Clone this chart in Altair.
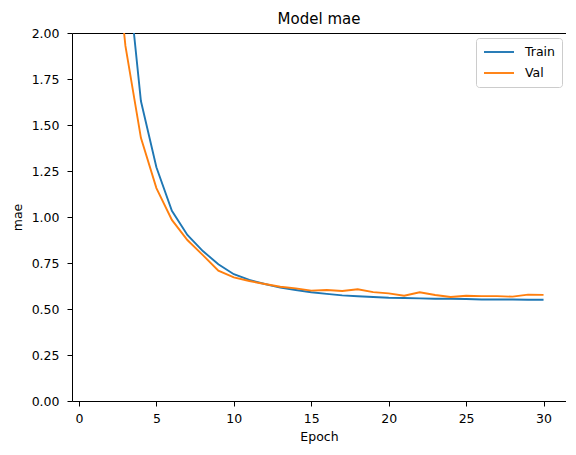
import altair as alt
import pandas as pd

# -----------------------------
# TRAINING HISTORY (MAE PER EPOCH)
# -----------------------------
epochs = list(range(1, 31))
train_mae = [5.60, 3.40, 2.45, 1.63, 1.270, 1.034, 0.902, 0.815, 0.743, 0.689,
             0.658, 0.636, 0.616, 0.603, 0.591, 0.582, 0.574, 0.569, 0.565, 0.561,
             0.560, 0.558, 0.556, 0.556, 0.554, 0.552, 0.552, 0.552, 0.550, 0.550]
val_mae = [4.10, 2.75, 1.93, 1.43, 1.157, 0.984, 0.875, 0.793, 0.708, 0.672,
           0.652, 0.636, 0.621, 0.612, 0.600, 0.603, 0.598, 0.607, 0.592, 0.585,
           0.572, 0.591, 0.576, 0.565, 0.572, 0.570, 0.570, 0.567, 0.578, 0.577]

series = ["Train", "Val"]
colors = ["#1f77b4", "#ff7f0e"]
x_ticks = [0, 5, 10, 15, 20, 25, 30]
y_ticks = [0.0, 0.25, 0.5, 0.75, 1.0, 1.25, 1.5, 1.75, 2.0]

df = pd.DataFrame({"Epoch": epochs, "Train": train_mae, "Val": val_mae})
df = df.melt(id_vars="Epoch", var_name="Series", value_name="mae")

FONT = "DejaVu Sans"

chart = (
    alt.Chart(df)
    .mark_line(clip=True, strokeWidth=1.9)
    .encode(
        x=alt.X(
            "Epoch:Q",
            scale=alt.Scale(domain=[-0.45, 31.45], nice=False, zero=False),
            axis=alt.Axis(values=x_ticks, format="d", title="Epoch",
                          titleX=247, titleY=39, titleBaseline="alphabetic",
                          labelBaseline="top", labelPadding=6),
        ),
        y=alt.Y(
            "mae:Q",
            scale=alt.Scale(domain=[0, 2], nice=False),
            axis=alt.Axis(values=y_ticks, format=".2f", title="mae",
                          titleX=-51, titleY=184, titleAngle=270,
                          titleAlign="center", titleBaseline="alphabetic",
                          labelPadding=8),
        ),
        color=alt.Color(
            "Series:N",
            scale=alt.Scale(domain=series, range=colors),
            legend=alt.Legend(
                title=None, orient="none", legendX=404, legendY=5,
                symbolType="stroke", symbolSize=900, symbolStrokeWidth=1.9,
                clipHeight=14, rowPadding=7, padding=7, labelOffset=10,
                labelFontSize=12.5, labelFont=FONT, labelColor="black",
                fillColor="white", strokeColor="#cccccc", cornerRadius=3,
            ),
        ),
        detail="Series:N",
    )
    .properties(
        width=494,
        height=368,
        autosize=alt.AutoSizeParams(type="none"),
        padding={"left": 64, "top": 25, "right": 0, "bottom": 46},
        title=alt.TitleParams("Model mae", fontSize=15, fontWeight="normal",
                              font=FONT, anchor="middle", offset=3, dy=15,
                              baseline="alphabetic", color="black"),
    )
    .configure_view(stroke="black", strokeWidth=1)
    .configure_axis(
        grid=False, domain=False, ticks=True, tickColor="black", tickWidth=1,
        tickSize=5, labelFont=FONT, labelFontSize=12.5, labelColor="black",
        titleFont=FONT, titleFontSize=12.5, titleColor="black",
        titleFontWeight="normal",
    )
)

chart.save("out.html", embed_options={"renderer": "svg", "actions": False})
